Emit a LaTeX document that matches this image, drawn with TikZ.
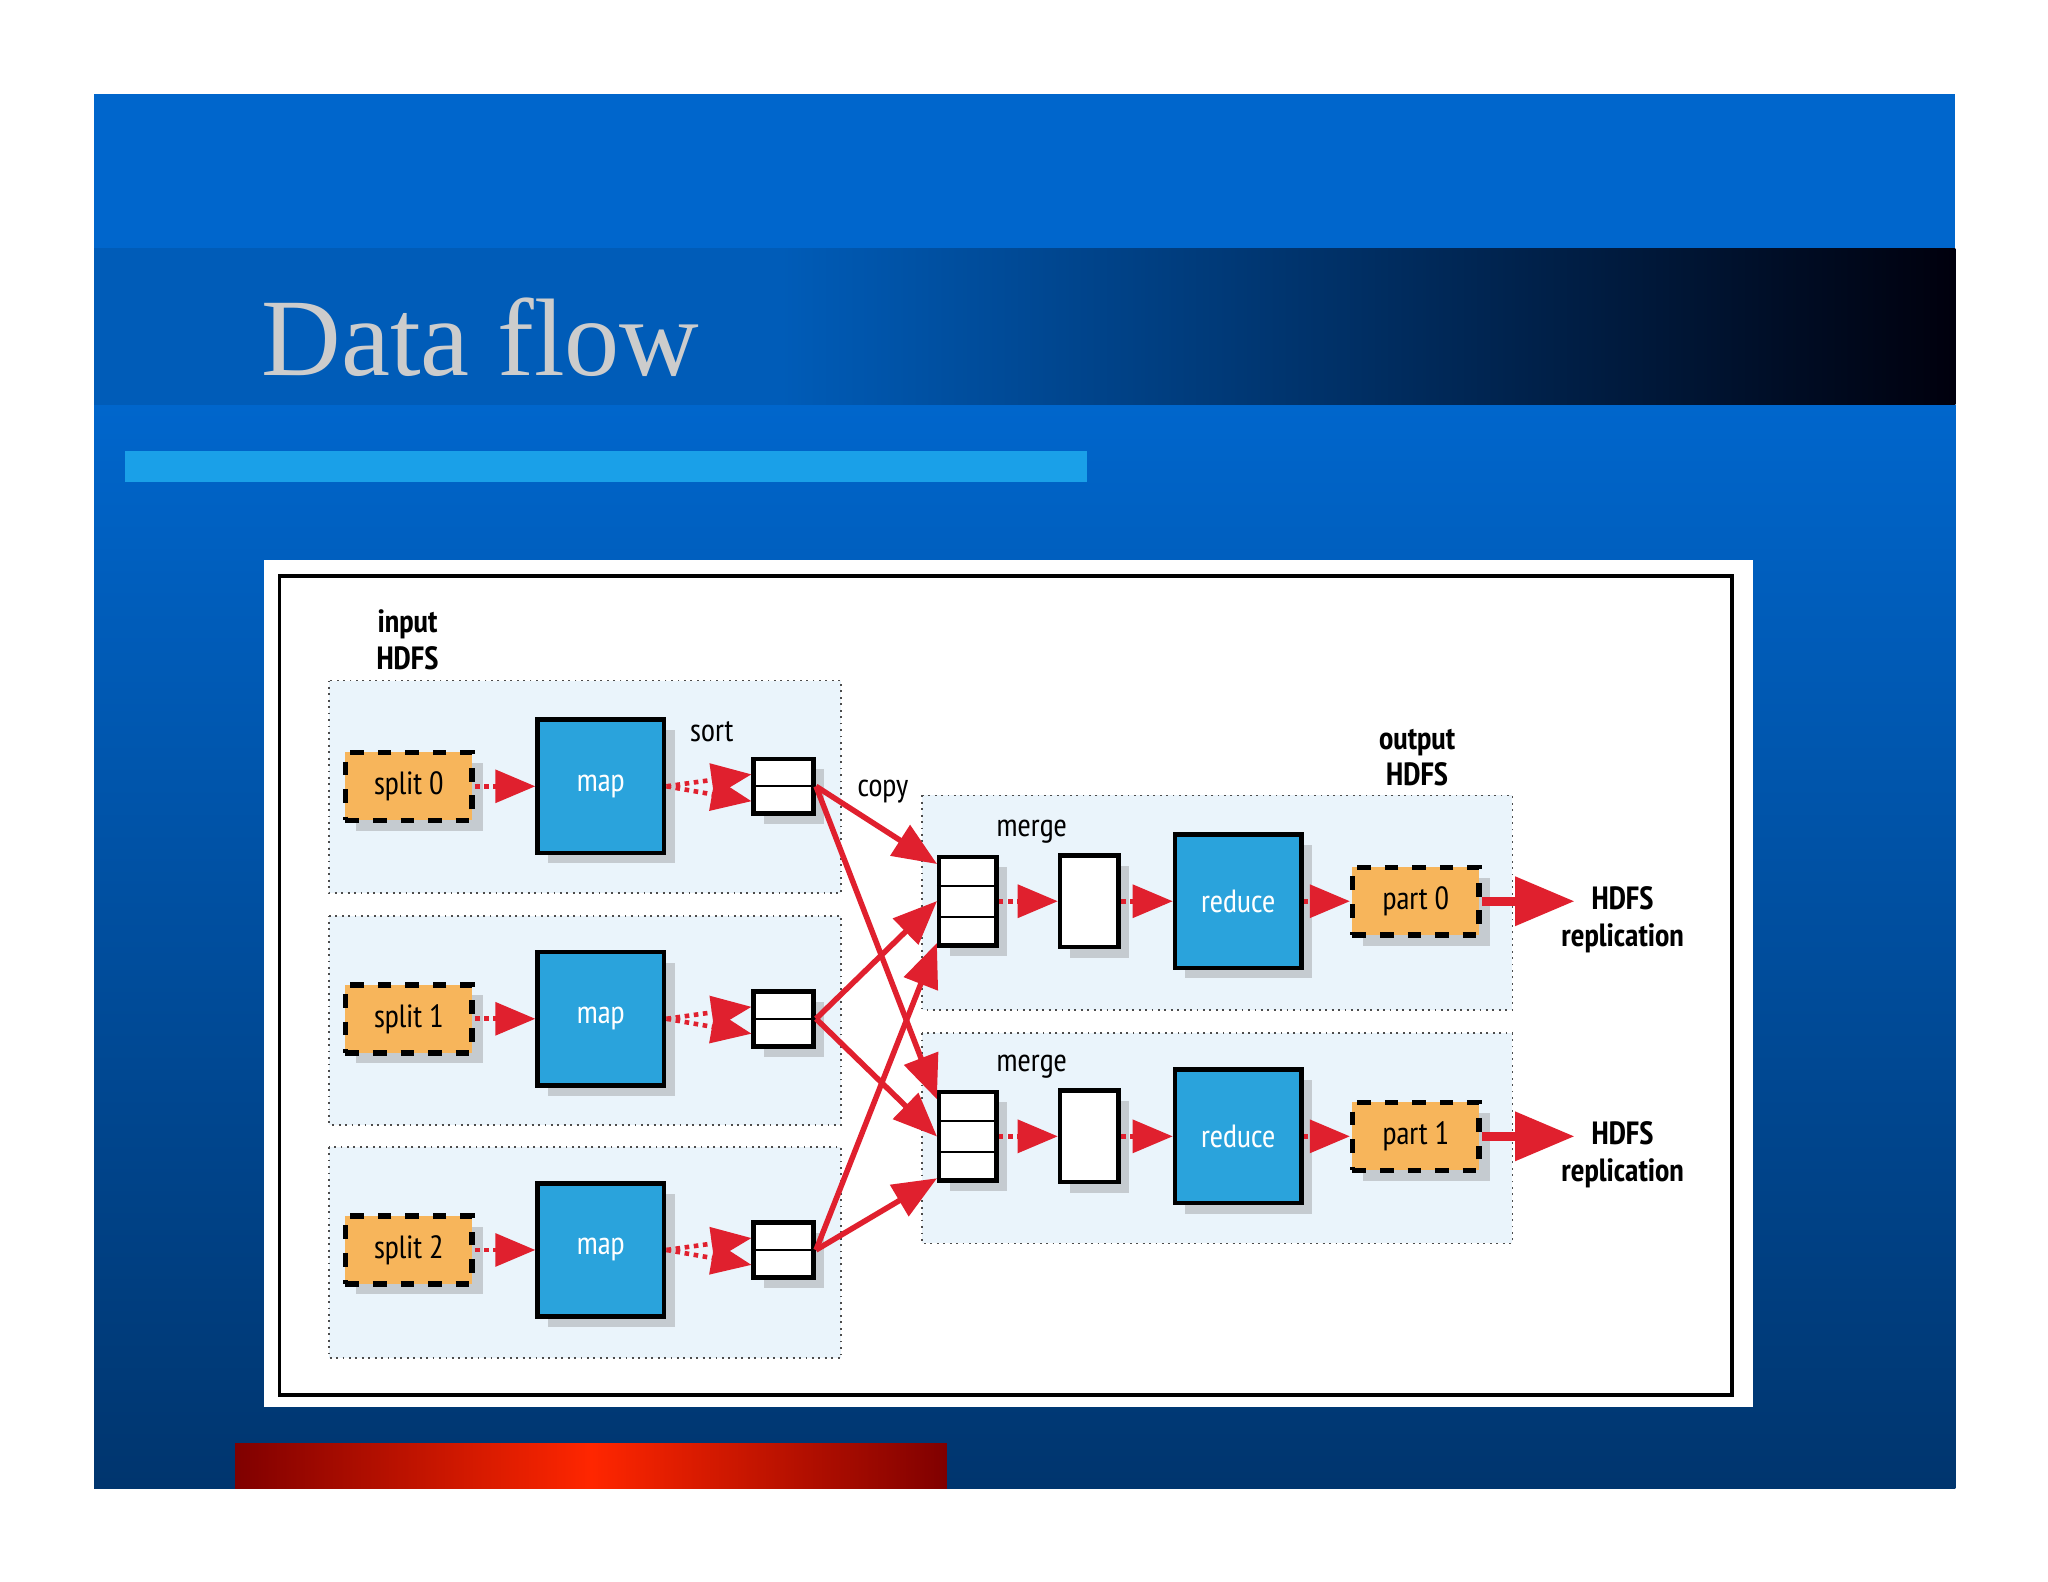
\documentclass[tikz,border=0pt]{standalone}
\usepackage{fontspec}
\setmainfont{Liberation Serif}
\newfontfamily\diag{PT Sans Narrow}[Scale=1]
\usetikzlibrary{arrows, calc, shadows, positioning}
\definecolor{slideblue}{HTML}{0066CC}
\definecolor{deepblue}{HTML}{00356E}
\definecolor{barcyan}{HTML}{1AA0E8}
\definecolor{boxfill}{HTML}{EAF4FB}
\definecolor{splitorange}{HTML}{F7B55B}
\definecolor{mapblue}{HTML}{2AA3DC}
\definecolor{flowred}{HTML}{E0202E}
\tikzset{
  group/.style={draw=black!70, densely dotted, fill=boxfill},
  split/.style={draw, line width=1.2pt, dashed, fill=splitorange, minimum width=0.97cm, minimum height=0.52cm, font=\diag\fontsize{7}{8}\selectfont, drop shadow={opacity=0.35}},
  task/.style={draw, line width=1pt, fill=mapblue, text=white, minimum width=0.97cm, minimum height=1.02cm, font=\diag\fontsize{7}{8}\selectfont, drop shadow={opacity=0.35}},
  buf/.style={draw, line width=1pt, fill=white, minimum width=0.46cm, minimum height=0.42cm, drop shadow={opacity=0.35}},
  mbuf/.style={draw, line width=1pt, fill=white, minimum width=0.44cm, minimum height=0.68cm, drop shadow={opacity=0.35}},
  lbl/.style={font=\diag\fontsize{7}{8}\selectfont},
  blbl/.style={font=\diag\bfseries\fontsize{7}{8}\selectfont, align=center},
  dflow/.style={->, flowred, densely dotted, line width=1pt},
  cflow/.style={->, flowred, line width=1.2pt},
}
\begin{document}
\begin{tikzpicture}[x=0.01cm, y=-0.01cm, >=triangle 45]
\useasboundingbox (0,0) rectangle (1568,1211);
\fill[white] (0,0) rectangle (1568,1211);
% slide background
\shade[top color=slideblue, bottom color=deepblue] (72,310) rectangle (1497,1140);
\fill[slideblue] (72,72) rectangle (1497,190);
\fill[slideblue!90!black] (72,190) rectangle (600,310);
\shade[left color=slideblue!90!black, right color=black!95!blue] (600,190) rectangle (1497,310);
\node[anchor=west, text=black!20, font=\fontsize{24}{28}\selectfont] (title) at (188,258) {Data flow};
\fill[barcyan] (96,345) rectangle (832,369);
\shade[left color=red!50!black, right color=red!50!black, middle color=orange!30!red] (180,1105) rectangle (725,1140);
% panel
\fill[white] (202,429) rectangle (1342,1077);
\draw[line width=0.8pt] (214,441) rectangle (1326,1068);
% groups
\foreach \t/\b in {521/684, 701/861, 878/1040}
  \draw[group] (252,\t) rectangle (644,\b);
\foreach \t/\b in {609/773, 791/952}
  \draw[group] (706,\t) rectangle (1158,\b);
% map side
\foreach \i/\y in {0/602, 1/780, 2/957} {
  \node[split] (split\i) at (313,\y) {split \i};
  \node[task] (map\i) at (460,\y) {map};
  \node[buf] (buf\i) at (600,\y) {};
  \draw (buf\i.west) -- (buf\i.east);
  \draw[dflow] (split\i) -- (map\i);
  \draw[dflow] (map\i.east) -- ($(buf\i.north west)!0.3!(buf\i.south west)$);
  \draw[dflow] (map\i.east) -- ($(buf\i.north west)!0.75!(buf\i.south west)$);
}
% reduce side
\foreach \i/\y in {0/690, 1/870} {
  \node[mbuf] (mrg\i) at (741,\y) {};
  \draw ($(mrg\i.north west)!0.333!(mrg\i.south west)$) -- ($(mrg\i.north east)!0.333!(mrg\i.south east)$);
  \draw ($(mrg\i.north west)!0.667!(mrg\i.south west)$) -- ($(mrg\i.north east)!0.667!(mrg\i.south east)$);
  \node[mbuf, minimum width=0.45cm, minimum height=0.7cm] (tmp\i) at (834,\y) {};
  \node[task] (red\i) at (948,\y) {reduce};
  \node[split] (part\i) at (1084,\y) {part \i};
  \coordinate (repl\i) at (1205,\y);
  \node[blbl, anchor=west] (hdfs\i) at (1183,\y+14) {HDFS\\replication};
  \draw[dflow] (mrg\i) -- (tmp\i);
  \draw[dflow] (tmp\i) -- (red\i);
  \draw[dflow] (red\i) -- (part\i);
  \draw[cflow, line width=2pt] (part\i) -- (repl\i);
  \node[lbl] at (790,\y-53) {merge};
}
% copy
\foreach \i/\f in {0/0.1, 1/0.5, 2/0.95} {
  \draw[cflow] (buf\i.east) -- ($(mrg0.north west)!\f!(mrg0.south west)$);
  \draw[cflow] (buf\i.east) -- ($(mrg1.north west)!\f!(mrg1.south west)$);
}
% labels
\node[blbl] (inlbl) at (312,490) {input\\HDFS};
\node[blbl] (outlbl) at (1085,580) {output\\HDFS};
\node[lbl] (sortlbl) at (545,560) {sort};
\node[lbl] (copylbl) at (676,606) {copy};
\end{tikzpicture}
\end{document}
